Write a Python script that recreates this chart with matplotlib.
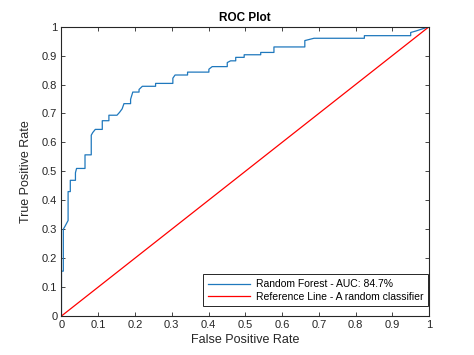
import matplotlib
matplotlib.use("Agg")
import matplotlib.pyplot as plt

plt.rcParams['font.family'] = ['Liberation Sans', 'DejaVu Sans']

# ROC curve vertices (false positive rate, true positive rate)
fpr = [0.0, 0.0, 0.005, 0.005, 0.010, 0.018, 0.018, 0.024, 0.024, 0.038, 0.038,
       0.041, 0.064, 0.064, 0.081, 0.081, 0.085, 0.092, 0.111, 0.111, 0.129,
       0.129, 0.151, 0.158, 0.165, 0.170, 0.188, 0.188, 0.194, 0.211, 0.211,
       0.220, 0.256, 0.256, 0.303, 0.303, 0.309, 0.343, 0.343, 0.401, 0.401,
       0.410, 0.451, 0.451, 0.460, 0.474, 0.474, 0.497, 0.497, 0.542, 0.542,
       0.578, 0.578, 0.662, 0.662, 0.687, 0.824, 0.824, 0.950, 0.950, 0.964, 1.0]
tpr = [0.0, 0.155, 0.155, 0.300, 0.311, 0.330, 0.430, 0.430, 0.469, 0.469, 0.495,
       0.510, 0.510, 0.557, 0.557, 0.625, 0.634, 0.645, 0.645, 0.675, 0.675,
       0.694, 0.694, 0.704, 0.716, 0.734, 0.734, 0.749, 0.774, 0.774, 0.783,
       0.794, 0.794, 0.804, 0.804, 0.822, 0.833, 0.833, 0.843, 0.843, 0.853,
       0.862, 0.862, 0.876, 0.882, 0.882, 0.894, 0.894, 0.903, 0.903, 0.911,
       0.911, 0.930, 0.930, 0.952, 0.960, 0.960, 0.969, 0.969, 0.980, 0.985, 1.0]
ref_x = [0, 1]
ref_y = [0, 1]
ticks = [0, 0.1, 0.2, 0.3, 0.4, 0.5, 0.6, 0.7, 0.8, 0.9, 1]
tick_labels = ['0', '0.1', '0.2', '0.3', '0.4', '0.5', '0.6', '0.7', '0.8', '0.9', '1']

fig = plt.figure(figsize=(4.74, 3.55), dpi=100)
ax = fig.add_axes([0.1297, 0.1099, 0.7755, 0.8149])

ax.plot(fpr, tpr, color='#1f78bd', lw=0.9, label='Random Forest - AUC: 84.7%')
ax.plot(ref_x, ref_y, color='#FF0000', lw=0.9, label='Reference Line - A random classifier')

ax.set_xlim(0, 1)
ax.set_ylim(0, 1)
ax.set_xticks(ticks)
ax.set_xticklabels(tick_labels)
ax.set_yticks(ticks)
ax.set_yticklabels(tick_labels)

axc = '#262626'
for s in ax.spines.values():
    s.set_color(axc)
    s.set_linewidth(0.8)
ax.tick_params(direction='in', length=3, width=0.6, colors=axc, labelsize=8,
               top=True, right=True, labeltop=False, labelright=False, pad=3)

ax.set_xlabel('False Positive Rate', fontsize=9, color=axc, labelpad=3)
ax.set_ylabel('True Positive Rate', fontsize=9, color=axc, labelpad=7)
ax.set_title('ROC Plot', fontsize=8.5, fontweight='bold', color='black', pad=4)

leg = ax.legend(loc='lower right', bbox_to_anchor=(0.997, 0.033), fontsize=7.5,
                frameon=True, fancybox=False, edgecolor=axc, framealpha=1,
                handlelength=4.0, borderpad=0.45, labelspacing=0.25, handletextpad=0.6,
                borderaxespad=0)
leg.get_frame().set_linewidth(0.7)

fig.savefig('out.png', dpi=100)
